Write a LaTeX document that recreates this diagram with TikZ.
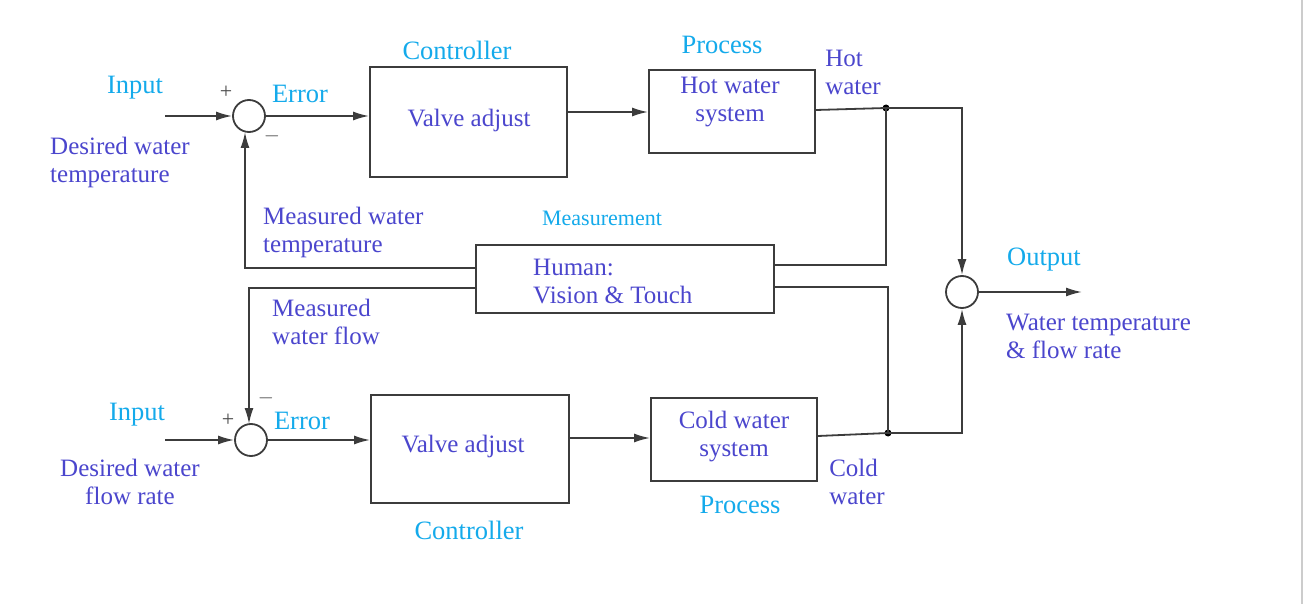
\documentclass[tikz,border=0pt]{standalone}
\usepackage{fontspec}
\setmainfont{Liberation Serif}
\newfontfamily\tms{Liberation Serif}
\usetikzlibrary{arrows.meta}
\definecolor{cy}{RGB}{20,170,235}
\definecolor{bl}{RGB}{75,70,205}
\definecolor{ln}{RGB}{60,60,60}
\begin{document}
\begin{tikzpicture}[x=1pt,y=-1pt,
  box/.style={draw=ln,line width=1.8pt,minimum width=#1},
  sum/.style={draw=ln,line width=1.8pt,circle,minimum size=32pt,inner sep=0pt},
  cl/.style={text=cy,font=\tms\fontsize{26.5}{28}\selectfont,inner sep=0pt},
  bt/.style={text=bl,font=\tms\fontsize{25}{28}\selectfont,inner sep=0pt,align=left},
  pm/.style={text=black!70,font=\tms\fontsize{22}{24}\selectfont,inner sep=0pt},
  wire/.style={draw=ln,line width=1.8pt},
  arr/.style={wire,-{Latex[length=16pt,width=9pt]}},
  dot/.style={circle,fill=black,inner sep=0pt,minimum size=7pt}]
\useasboundingbox (0,0) rectangle (1314,604);
\fill[white] (0,0) rectangle (1314,604);
\draw[gray!40,line width=2pt] (1302,0) -- (1302,604);
% nodes
\node[sum] (s1) at (249,116) {};
\node[sum] (s2) at (251,440) {};
\node[sum] (so) at (962,292) {};
\node[box,minimum width=197pt,minimum height=110pt] (c1) at (468.5,122) {};
\node[box,minimum width=166pt,minimum height=83pt] (h) at (732,111.5) {};
\node[box,minimum width=298pt,minimum height=68pt] (m) at (625,279) {};
\node[box,minimum width=198pt,minimum height=108pt] (c2) at (470,449) {};
\node[box,minimum width=166pt,minimum height=83pt] (cw) at (734,439.5) {};
\node[bt] at (469,120) {Valve adjust};
\node[bt] at (463,446) {Valve adjust};
\node[bt,align=center] at (730,102) {Hot water\\system};
\node[bt,align=center] at (734,437) {Cold water\\system};
\node[bt,anchor=west] at (533,282) {Human:\\Vision \& Touch};
\coordinate (i1) at (165,116);
\coordinate (i2) at (165,440);
\coordinate (o) at (1082,292);
\node[dot] (j1) at (886,108) {};
\node[dot] (j2) at (888,433) {};
% wires
\draw[arr] (i1) -- (s1);
\draw[arr] (i2) -- (s2);
\draw[arr] (s1) -- (s1 -| c1.west);
\draw[arr] (s2) -- (s2 -| c2.west);
\draw[arr] (c1.east |- 0,112) -- (h.west |- 0,112);
\draw[arr] (c2.east |- 0,438) -- (cw.west |- 0,438);
\draw[wire] (h.east |- 0,110) -- (j1.center);
\draw[arr] (j1.center) -| (so.north);
\draw[wire] (j1.center) |- (m.east |- 0,265);
\draw[wire] (cw.east |- 0,436) -- (j2.center);
\draw[arr] (j2.center) -| (so.south);
\draw[wire] (m.east |- 0,287) -| (j2.center);
\draw[arr] (m.west |- 0,268) -| (245,132);
\draw[arr] (m.west |- 0,288) -| (249,424);
\draw[arr] (so) -- (o);
% labels
\node[pm] at (226,92) {+};
\node[pm] at (272,136) {$-$};
\node[pm] at (228,420) {+};
\node[pm] at (266,398) {$-$};
\node[cl] at (300,94) {Error};
\node[cl] at (302,421) {Error};
\node[cl] at (135,88) {Input};
\node[cl] at (137,415) {Input};
\node[cl] at (457,50) {Controller};
\node[cl] at (469,530) {Controller};
\node[cl] at (722,45) {Process};
\node[cl] at (740,505) {Process};
\node[cl,font=\tms\fontsize{22}{24}\selectfont] at (602,218) {Measurement};
\node[cl] at (1044,260) {Output};
\node[bt] at (120,162) {Desired water\\temperature};
\node[bt,align=center] at (130,482) {Desired water\\flow rate};
\node[bt] at (853,72) {Hot\\water};
\node[bt] at (857,482) {Cold\\water};
\node[bt,anchor=west] at (263,232) {Measured water\\temperature};
\node[bt,anchor=west] at (272,322) {Measured\\water flow};
\node[bt,anchor=west] at (1006,336) {Water temperature\\\& flow rate};
\end{tikzpicture}
\end{document}
